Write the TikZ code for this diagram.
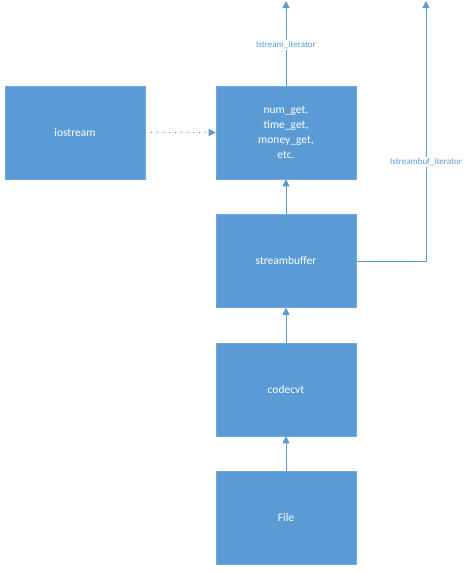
\documentclass[tikz,border=0pt]{standalone}
\usepackage{fontspec}
\setmainfont{Carlito}
\usetikzlibrary{arrows.meta}
\definecolor{boxblue}{HTML}{5B9BD5}
\definecolor{boxedge}{HTML}{6FA8DC}
\definecolor{lineblue}{HTML}{5B9BD5}
\tikzset{
  blk/.style={draw=boxedge, fill=boxblue, minimum width=140pt, minimum height=93pt, text=white, font=\fontsize{11.5}{15}\selectfont, align=center, inner sep=0pt, line width=0.6pt},
  conn/.style={draw=lineblue, line width=0.8pt, -{Triangle[length=7pt,width=7pt]}},
  lbl/.style={fill=white, text=lineblue, font=\fontsize{9}{11}\selectfont, inner sep=1.5pt}
}
\begin{document}
\begin{tikzpicture}[x=1pt,y=1pt]
\useasboundingbox (0,0) rectangle (474,-573);
\node[blk] (io) at (75,-132.5) {iostream};
\node[blk] (num) at (286,-132.5) {num\_get,\\time\_get,\\money\_get,\\etc.};
\node[blk] (sb) at (286,-261) {streambuffer};
\node[blk] (cc) at (286,-389.5) {codecvt};
\node[blk] (file) at (286,-518) {File};
\coordinate (top1) at (286,-1);
\coordinate (top2) at (426,-1);
\coordinate (corner) at (426,-261);
\draw[conn] (file) -- (cc);
\draw[conn] (cc) -- (sb);
\draw[conn] (sb) -- (num);
\draw[conn] (num) -- node[lbl, pos=0.48] {Istream\_iterator} (top1);
\draw[conn] (sb.east) -- (corner) -- node[lbl, pos=0.38] {Istreambuf\_iterator} (top2);
\draw[conn, dash pattern=on 1pt off 5pt] (io) -- (num);
\end{tikzpicture}
\end{document}
